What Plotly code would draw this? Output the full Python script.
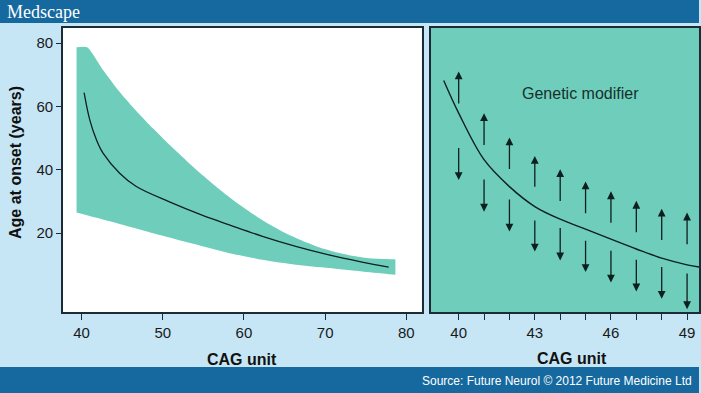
import plotly.graph_objects as go

# ---- data (left panel) ----
band_upper_x = [39.39, 40.69, 42.65, 44.70, 46.75, 48.79, 50.83, 52.88, 54.92, 56.97, 59.02,
                61.06, 63.11, 65.15, 67.19, 69.23, 71.29, 73.33, 75.37, 78.65]
band_upper_y = [78.74, 78.74, 71.57, 64.62, 58.62, 53.10, 47.89, 42.99, 38.26, 33.84, 29.73,
                26.10, 22.78, 19.94, 17.57, 15.52, 13.94, 12.84, 12.05, 11.73]
band_lower_x = [39.39, 44.70, 50.01, 58.20, 62.28, 66.38, 70.45, 74.54, 78.65]
band_lower_y = [26.51, 22.90, 19.15, 13.69, 11.58, 10.00, 8.96, 7.88, 6.84]
median_x = [40.32, 41.02, 41.84, 42.65, 44.70, 46.75, 50.83, 54.92, 58.20, 62.28, 66.38, 70.45, 74.54, 77.82]
median_y = [64.40, 55.78, 49.47, 45.27, 38.95, 34.72, 29.89, 25.63, 22.63, 19.00, 15.84, 13.15, 10.88, 9.27]

# ---- data (right panel) ----
curve_x = [39.41, 40, 41, 42, 43, 44, 45, 46, 47, 48, 49, 49.47]
curve_y = [68.2, 57.9, 43.2, 34.7, 28.4, 24.4, 21.3, 18.1, 15.0, 12.1, 10.0, 9.3]
arrow_x = [40, 41, 42, 43, 44, 45, 46, 47, 48, 49]
up_base = [60.5, 47.4, 39.8, 34.2, 29.7, 25.8, 22.8, 19.8, 17.4, 16.0]
up_tip = [71.1, 57.9, 50.2, 44.4, 40.2, 36.3, 33.2, 30.2, 27.7, 26.5]
down_base = [47.4, 37.4, 31.1, 24.5, 22.1, 18.1, 14.9, 12.1, 9.8, 7.7]
down_tip = [36.8, 26.8, 20.5, 14.2, 11.4, 7.7, 4.4, 1.6, -0.7, -4.0]

left_xticks = [40, 50, 60, 70, 80]
left_yticks = [20, 40, 60, 80]
right_xticks = [40, 41, 42, 43, 44, 45, 46, 47, 48, 49]
right_xlabels = ["40", "", "", "43", "", "", "46", "", "", "49"]

TEAL = "#6FCEBB"
BG = "#C6E6F6"
BLUE = "#16699F"
DARK = "#1B2B38"
W, H = 701, 393

fig = go.Figure()

# band: lower edge, then upper edge filled to it
fig.add_trace(go.Scatter(
    x=band_lower_x, y=band_lower_y, mode="lines",
    line=dict(width=0, color=TEAL, shape="spline", smoothing=0.6),
    hoverinfo="skip", showlegend=False, xaxis="x", yaxis="y"))
fig.add_trace(go.Scatter(
    x=band_upper_x, y=band_upper_y, mode="lines", fill="tonexty", fillcolor=TEAL,
    line=dict(width=0, color=TEAL, shape="spline", smoothing=0.6),
    hoverinfo="skip", showlegend=False, xaxis="x", yaxis="y"))
fig.add_trace(go.Scatter(
    x=median_x, y=median_y, mode="lines",
    line=dict(color="#0d1f1f", width=1.3, shape="spline"),
    showlegend=False, xaxis="x", yaxis="y"))

# right curve
fig.add_trace(go.Scatter(
    x=curve_x, y=curve_y, mode="lines",
    line=dict(color="#0d1f1f", width=1.4, shape="spline"),
    showlegend=False, xaxis="x2", yaxis="y2"))

annotations = []
for xv, b, t in zip(arrow_x, up_base, up_tip):
    annotations.append(dict(x=xv, y=t, ax=xv, ay=b, xref="x2", yref="y2", axref="x2", ayref="y2",
                            showarrow=True, arrowhead=2, arrowsize=1.2, arrowwidth=1.3,
                            arrowcolor="#0d1f1f", text=""))
for xv, b, t in zip(arrow_x, down_base, down_tip):
    annotations.append(dict(x=xv, y=t, ax=xv, ay=b, xref="x2", yref="y2", axref="x2", ayref="y2",
                            showarrow=True, arrowhead=2, arrowsize=1.2, arrowwidth=1.3,
                            arrowcolor="#0d1f1f", text=""))

title_font = dict(family="Liberation Sans, Arial", size=16, color="#111111")
annotations.append(dict(x=44.8, y=64.2, xref="x2", yref="y2", text="Genetic modifier",
                        showarrow=False, font=dict(family="Liberation Sans, Arial", size=16, color="#17302c")))
annotations.append(dict(x=5 / W, y=1 - 12 / H, xref="paper", yref="paper", text="Medscape",
                        xanchor="left", yanchor="middle", showarrow=False,
                        font=dict(family="Liberation Serif, serif", size=18, color="white")))
annotations.append(dict(x=696 / W, y=1 - 381 / H, xref="paper", yref="paper",
                        text="Source: Future Neurol © 2012 Future Medicine Ltd",
                        xanchor="right", yanchor="middle", showarrow=False,
                        font=dict(family="Liberation Sans, Arial", size=12, color="white")))
annotations.append(dict(x=15.5 / W, y=1 - 162.5 / H, xref="paper", yref="paper",
                        text="<b>Age at onset (years)</b>", textangle=-90,
                        xanchor="center", yanchor="middle", showarrow=False, font=title_font))
annotations.append(dict(x=243 / W, y=1 - 359 / H, xref="paper", yref="paper",
                        text="<b>CAG unit</b>", xanchor="center", yanchor="middle",
                        showarrow=False, font=title_font))
annotations.append(dict(x=574 / W, y=1 - 358 / H, xref="paper", yref="paper",
                        text="<b>CAG unit</b>", xanchor="center", yanchor="middle",
                        showarrow=False, font=title_font))

shapes = [
    dict(type="rect", xref="paper", yref="paper", x0=0, x1=1, y0=1 - 23 / H, y1=1,
         fillcolor=BLUE, line=dict(width=0), layer="below"),
    dict(type="rect", xref="paper", yref="paper", x0=0, x1=1, y0=0, y1=1 - 367 / H,
         fillcolor=BLUE, line=dict(width=0), layer="below"),
]

ydom = [1 - 312 / H, 1 - 28 / H]
axis_font = dict(family="Liberation Sans, Arial", size=15, color="#1a1a1a")

fig.update_layout(
    width=W, height=H, margin=dict(l=0, r=0, t=0, b=0),
    paper_bgcolor=BG, plot_bgcolor="white",
    shapes=shapes, annotations=annotations,
    xaxis=dict(domain=[63 / W, 423 / W], range=[37.7, 81.9], tickvals=left_xticks,
               ticks="outside", ticklen=6, tickcolor=DARK, tickwidth=1.2,
               showline=True, linecolor=DARK, linewidth=1.5, mirror=True,
               showgrid=False, zeroline=False, tickfont=axis_font),
    yaxis=dict(domain=ydom, range=[-4.9, 84.8], tickvals=left_yticks,
               ticks="outside", ticklen=5, tickcolor=DARK, tickwidth=1.2,
               showline=True, linecolor=DARK, linewidth=1.5, mirror=True,
               showgrid=False, zeroline=False, tickfont=axis_font),
    xaxis2=dict(domain=[432 / W, 1.0], range=[38.9, 49.47], anchor="y2",
                tickvals=right_xticks, ticktext=right_xlabels,
                ticks="outside", ticklen=6, tickcolor=DARK, tickwidth=1.2,
                showline=True, linecolor=DARK, linewidth=1.5, mirror=True,
                showgrid=False, zeroline=False, tickfont=axis_font),
    yaxis2=dict(domain=ydom, range=[-4.9, 84.8], anchor="x2",
                showticklabels=False, ticks="",
                showline=True, linecolor=DARK, linewidth=1.5, mirror=True,
                showgrid=False, zeroline=False),
)

# teal background for right panel
fig.add_shape(type="rect", xref="x2 domain", yref="y2 domain", x0=0, x1=1, y0=0, y1=1,
              fillcolor=TEAL, line=dict(width=0), layer="below")

fig.write_html("out.html", config={"displayModeBar": False},
               post_script="document.body.style.margin='0';document.body.style.overflow='hidden';")
